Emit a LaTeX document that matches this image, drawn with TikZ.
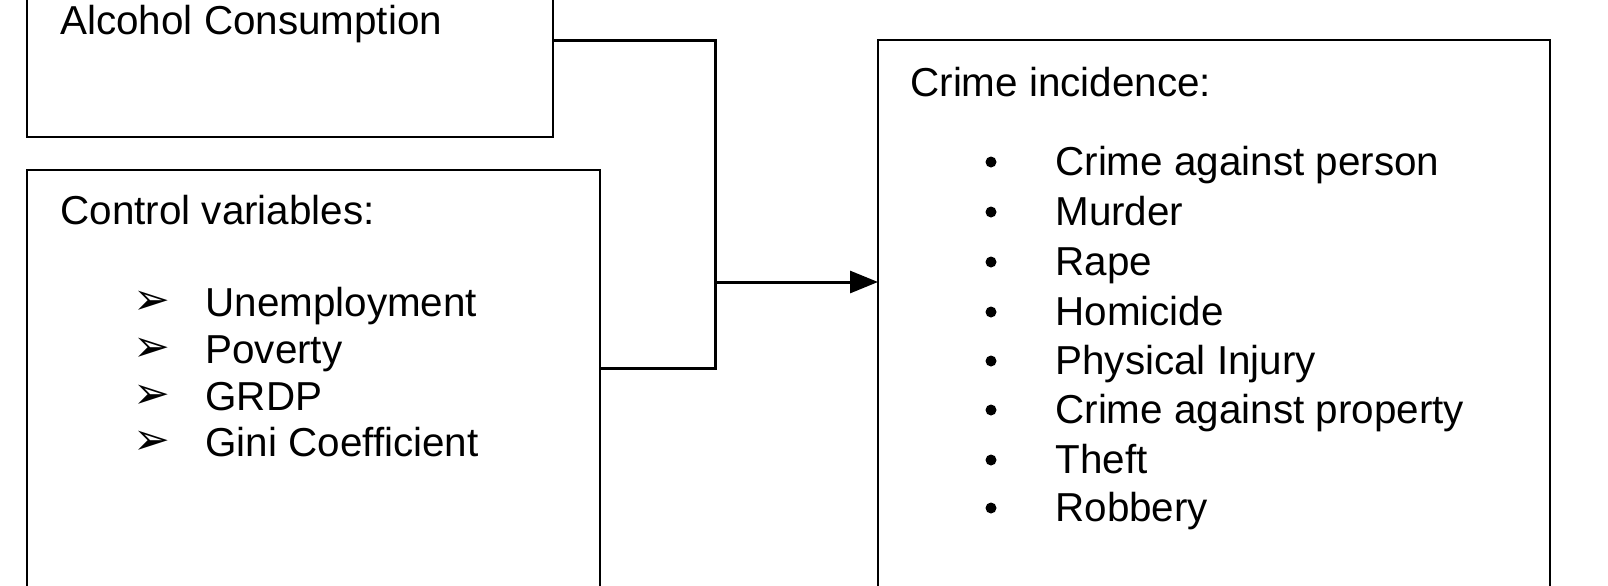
\documentclass[tikz,border=0pt]{standalone}
\usepackage{fontspec}
\setmainfont{Liberation Sans}
\newfontfamily\symf{DejaVu Sans}
\usetikzlibrary{arrows.meta}
\begin{document}
\begin{tikzpicture}[x=0.5pt,y=-0.5pt,
  box/.style={draw,line width=1.3pt},
  txt/.style={anchor=base west,inner sep=0pt,font=\fontsize{20.2pt}{24pt}\selectfont},
  conn/.style={line width=1.5pt}]
\useasboundingbox (0,0) rectangle (1608,585);
\clip (0,0) rectangle (1608,585);
\draw[box] (27,-10) rectangle (553,137);
\draw[box] (27,170) rectangle (600,600);
\draw[box] (878,40) rectangle (1550,600);
\coordinate (a) at (553,40);
\coordinate (c) at (600,368);
\coordinate (j) at (715,282);
\coordinate (t) at (878,282);
\draw[conn] (a) -- (715,40) -- (715,368) -- (c);
\draw[conn,-{Triangle[length=14pt,width=11pt]}] (j) -- (t);
\node[txt] (n1) at (60,34) {Alcohol Consumption};
\node[txt] (n2) at (60,224) {Control variables:};
\foreach \y/\t [count=\i] in {303/Unemployment,350/Poverty,397/GRDP,443/Gini Coefficient}{
  \node[txt] (cs\i) at (133,\y+11) {\symf\fontsize{22pt}{24pt}\selectfont ➢};
  \node[txt] (cv\i) at (205,\y+13) {\t};
}
\node[txt] (n3) at (910,96) {Crime incidence:};
\foreach \y/\t [count=\i] in {162/Crime against person,212/Murder,262/Rape,312/Homicide,361/Physical Injury,410/Crime against property,460/Theft,508/Robbery}{
  \node[circle,fill,inner sep=0pt,minimum size=5.5pt] (bs\i) at (991,\y) {};
  \node[txt] (bv\i) at (1055,\y+13) {\t};
}
\end{tikzpicture}
\end{document}
